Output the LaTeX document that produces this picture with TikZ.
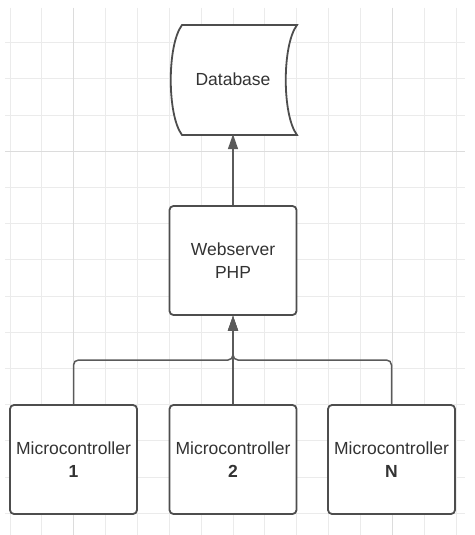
\documentclass[tikz,border=0pt]{standalone}
\usepackage{fontspec}
\setmainfont{Liberation Sans}
\usetikzlibrary{arrows.meta}
\definecolor{gridgray}{HTML}{EBEBEB}
\definecolor{griddark}{HTML}{DCDCDC}
\definecolor{edgegray}{HTML}{4D4D4D}
\definecolor{linegray}{HTML}{5A5A5A}
\definecolor{textgray}{HTML}{333333}
\tikzset{
  gridline/.style={gridgray, line width=1pt},
  box/.style={draw=edgegray, line width=1.8pt, rounded corners=4pt, fill=white,
    minimum width=127pt, minimum height=109pt, align=center, text=textgray,
    font=\fontsize{17.5}{23.3}\selectfont},
  link/.style={linegray, line width=1.5pt, -{Triangle[length=15pt,width=10pt]}}
}
\begin{document}
\begin{tikzpicture}[x=1pt,y=-1pt]
   \useasboundingbox[fill=white] (0,0) rectangle (474,535);
   \foreach \i in {0,...,13} \draw[gridline] (5,42.7+36.2*\i) -- (465,42.7+36.2*\i);
   \foreach \i in {0,...,14} \draw[gridline] (10+31.86*\i,8) -- (10+31.86*\i,535);
   \foreach \i in {2,12} \draw[griddark, line width=1pt] (10+31.86*\i,8) -- (10+31.86*\i,535);
   \draw[griddark, line width=1pt] (5,151.3) -- (465,151.3);
   \path[draw=edgegray, line width=1.8pt, fill=white] (182,25) -- (297,25)
      .. controls (282,45) and (282,115) .. (297,135) -- (182,135)
      .. controls (167,115) and (167,45) .. (182,25) -- cycle;
   \node[minimum width=127pt, minimum height=110pt, text=textgray,
      font=\fontsize{17.5}{23.3}\selectfont] (db) at (233,79) {Database};
   \node[box] (web) at (233,260.5) {Webserver\\PHP};
   \node[box] (mc1) at (73.5,459.5) {Microcontroller\\\textbf{1}};
   \node[box] (mc2) at (233,459.5) {Microcontroller\\\textbf{2}};
   \node[box] (mc3) at (391.5,459.5) {Microcontroller\\\textbf{N}};
   \coordinate (hub) at (233,360);
   \draw[link] (web) -- (db);
   \draw[link, rounded corners=5pt] (mc1.north) |- (hub) -- (web.south);
   \draw[link, rounded corners=5pt] (mc3.north) |- (hub) -- (web.south);
   \draw[link] (mc2.north) -- (web.south);
\end{tikzpicture}
\end{document}
